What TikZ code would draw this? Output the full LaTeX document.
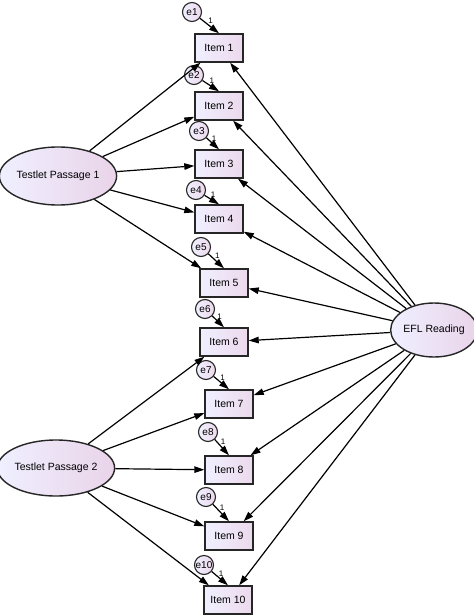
\documentclass[tikz,border=0pt]{standalone}
\usepackage{fontspec}
\setmainfont{Liberation Sans}
\usetikzlibrary{arrows.meta,shapes.geometric}
\begin{document}
\begin{tikzpicture}[x=1pt,y=-1pt,
  itembox/.style={draw=black!85, line width=1.4pt, minimum width=48pt, minimum height=28pt, inner sep=0pt, left color=blue!6!white, right color=violet!15!white, font=\fontsize{10.5}{12}\selectfont},
  latent/.style={ellipse, draw=black!85, line width=1.4pt, inner sep=0pt, left color=blue!6!white, right color=violet!17!white, font=\fontsize{10.5}{12}\selectfont},
  errc/.style={circle, draw=black!85, line width=1.1pt, minimum size=19pt, inner sep=0pt, left color=blue!6!white, right color=violet!15!white, font=\fontsize{10}{10}\selectfont},
  path/.style={line width=1.2pt, -{Triangle[length=10pt,width=6.5pt]}},
  one/.style={font=\fontsize{8}{8}\selectfont, inner sep=1pt}]
\useasboundingbox (0,0) rectangle (474,616);

\node[latent, minimum width=104pt, minimum height=58pt] (tp1) at (58,176) {Testlet Passage 1};
\node[latent, minimum width=108pt, minimum height=56pt] (tp2) at (56,468) {Testlet Passage 2};
\node[latent, minimum width=76pt, minimum height=54pt] (efl) at (434,330) {EFL Reading};

\foreach \i/\ix/\iy/\ex/\ey in {1/219/48/192/12, 2/219/106/194/75, 3/219/164/199/131, 4/219/219/196/190, 5/224/283/201/247, 6/224/342/205/309, 7/229/404/206/370, 8/229/470/208/432, 9/229/536/206/497, 10/228/600/204/565}{
  \node[itembox] (it\i) at (\ix,\iy) {Item \i};
  \node[errc] (e\i) at (\ex,\ey) {e\i};
  \draw[path] (e\i) -- node[one, pos=0.45, above, xshift=2pt] {1} (it\i.north);
  \draw[path] (efl) -- (it\i);
}
\foreach \i in {1,...,5}{\draw[path] (tp1) -- (it\i);}
\foreach \i in {6,...,10}{\draw[path] (tp2) -- (it\i);}
\end{tikzpicture}
\end{document}
